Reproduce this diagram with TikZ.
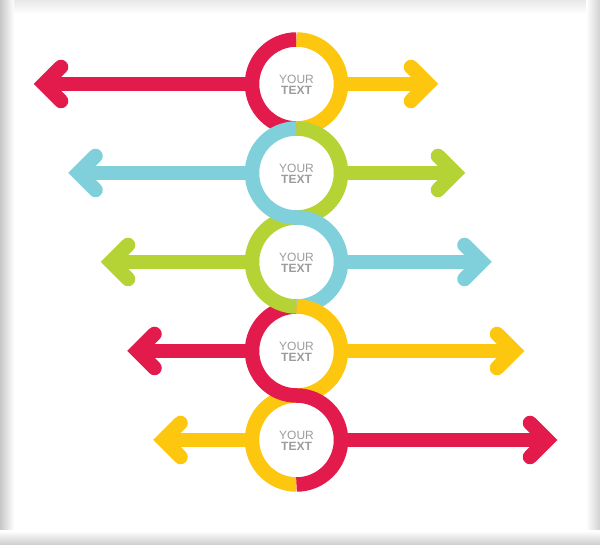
\documentclass[tikz,border=0pt]{standalone}
\usepackage{fontspec}
\setmainfont{Liberation Sans}
\usetikzlibrary{calc}
\definecolor{cred}{HTML}{E31B4C}
\definecolor{cyel}{HTML}{FDC70F}
\definecolor{cblu}{HTML}{80D0DC}
\definecolor{cgrn}{HTML}{B5D335}
\definecolor{ctxt}{HTML}{9C9C9C}
\begin{document}
\begin{tikzpicture}[x=1pt,y=1pt,
  ring/.style={line width=14.5pt, line cap=butt},
  shaft/.style={line width=14.5pt, line cap=butt},
  chev/.style={line width=14.5pt, line cap=round, line join=miter},
  txt/.style={font=\fontsize{12pt}{10.5pt}\selectfont, text=ctxt, align=center, inner sep=0pt}]
\useasboundingbox (0,0) rectangle (600,545);
\fill[white] (0,0) rectangle (600,545);
% soft grey frame
\shade[top color=black!9, bottom color=white] (0,531) rectangle (600,545);
\shade[left color=black!22, right color=white] (0,0) rectangle (14,545);
\shade[left color=white, right color=black!18] (586,0) rectangle (600,545);
\shade[top color=white, bottom color=black!20] (0,0) rectangle (600,14);
\def\rc{44.5pt}
\coordinate (c1) at (296.5,461);
\coordinate (c2) at (296.5,372);
\coordinate (c3) at (296.5,283);
\coordinate (c4) at (296.5,194);
\coordinate (c5) at (296.5,105);
% arrow vertices
\coordinate (la1) at (44,461);    \coordinate (ra1) at (428,461);
\coordinate (la2) at (78.5,372);  \coordinate (ra2) at (455,372);
\coordinate (la3) at (111,283);   \coordinate (ra3) at (481.5,283);
\coordinate (la4) at (137.5,194); \coordinate (ra4) at (514,194);
\coordinate (la5) at (163.5,105); \coordinate (ra5) at (547,105);
% rings (quarter arcs, in stacking order)
\draw[ring,cred] (c1) ++(90:\rc) arc[start angle=90,end angle=270,radius=\rc];
\draw[ring,cyel] (c1) ++(90:\rc) arc[start angle=90,end angle=-90,radius=\rc];
\draw[ring,cblu] (c2) ++(90:\rc) arc[start angle=90,end angle=180,radius=\rc];
\draw[ring,cgrn] (c2) ++(90:\rc) arc[start angle=90,end angle=0,radius=\rc];
\draw[ring,cgrn] (c2) ++(0:\rc) arc[start angle=0,end angle=-90,radius=\rc] arc[start angle=90,end angle=180,radius=\rc];
\draw[ring,cblu] (c2) ++(180:\rc) arc[start angle=180,end angle=270,radius=\rc] arc[start angle=90,end angle=0,radius=\rc];
\draw[ring,cred] (c4) ++(90:\rc) arc[start angle=90,end angle=180,radius=\rc];
\draw[ring,cgrn] (c3) ++(180:\rc) arc[start angle=180,end angle=270,radius=\rc];
\draw[ring,cblu] (c3) ++(0:\rc) arc[start angle=0,end angle=-90,radius=\rc];
\draw[ring,cyel] (c4) ++(90:\rc) arc[start angle=90,end angle=0,radius=\rc];
\draw[ring,cyel] (c4) ++(0:\rc) arc[start angle=0,end angle=-90,radius=\rc] arc[start angle=90,end angle=180,radius=\rc];
\draw[ring,cred] (c4) ++(180:\rc) arc[start angle=180,end angle=270,radius=\rc] arc[start angle=90,end angle=0,radius=\rc];
\draw[ring,cyel] (c5) ++(180:\rc) arc[start angle=180,end angle=270,radius=\rc];
\draw[ring,cred] (c5) ++(0:\rc) arc[start angle=0,end angle=-90,radius=\rc];
% shafts and arrow heads
\foreach \i/\lc/\rcol in {1/cred/cyel, 2/cblu/cgrn, 3/cgrn/cblu, 4/cred/cyel, 5/cyel/cred}{
  \draw[shaft,\lc] ($(c\i)+(-38.5,0)$) -- (la\i);
  \draw[chev,\lc] ($(la\i)+(17,17)$) -- (la\i) -- ($(la\i)+(17,-17)$);
  \draw[shaft,\rcol] ($(c\i)+(38.5,0)$) -- (ra\i);
  \draw[chev,\rcol] ($(ra\i)+(-17,17)$) -- (ra\i) -- ($(ra\i)+(-17,-17)$);
  \node[txt] (t\i) at ($(c\i)+(0,-1)$) {YOUR\\\textbf{TEXT}};
}
\end{tikzpicture}
\end{document}
